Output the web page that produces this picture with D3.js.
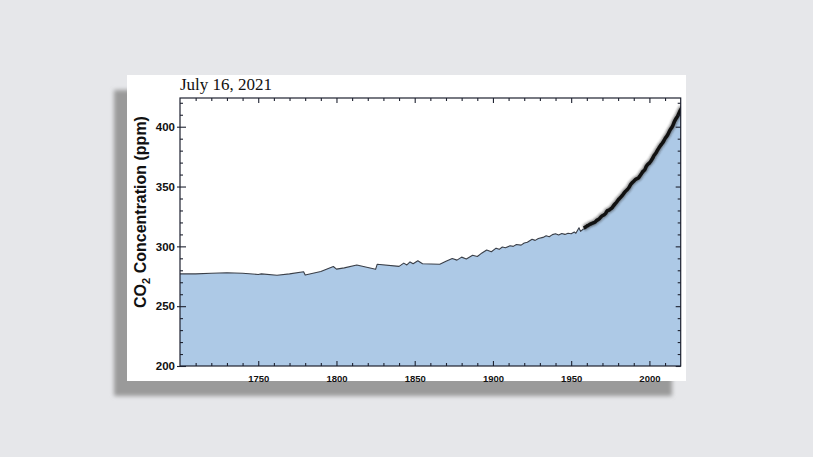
<!DOCTYPE html>
<html><head><meta charset="utf-8">
<script src="https://cdn.jsdelivr.net/npm/d3@7/dist/d3.min.js"></script>
<style>
html,body{margin:0;padding:0;background:#e6e7ea;}
svg{display:block;}
</style></head>
<body><svg id="c" width="813" height="457"></svg>
<script>
// ---- data ----
const titleText = "July 16, 2021";
const iceYears = [1700,1710,1720,1730,1740,1750,1752,1762,1770,1779,1780,1790,1798,1800,1805,1813,1825,1826,1840,1843,1845,1847,1849,1852,1855,1866,1870,1874,1877,1880,1883,1887,1890,1893,1896,1899,1902,1904,1906,1908,1911,1913,1915,1918,1920,1922,1925,1927,1929,1932,1934,1936,1938,1940,1942,1944,1946,1948,1950,1952,1953,1955,1956,1958];
const iceValues = [277,277,277.5,278,277.5,276.5,277,275.8,277,278.8,276,279,283.2,281,282,284.4,280.8,285,283.3,286,284.5,287,285.5,288,285.5,285,287.5,289.8,288.5,291,289.5,292.5,291.5,294.5,297,295.5,298.5,297.5,299.5,298.8,300.5,300,301.5,301,302.8,303.5,306,305,306.5,307.5,308.8,308,309.8,310.5,309.5,310.8,310,311,310.5,312,311,315.5,312.5,314.7];
const mloYears = [1958,1959,1960,1961,1962,1963,1964,1965,1966,1967,1968,1969,1970,1971,1972,1973,1974,1975,1976,1977,1978,1979,1980,1981,1982,1983,1984,1985,1986,1987,1988,1989,1990,1991,1992,1993,1994,1995,1996,1997,1998,1999,2000,2001,2002,2003,2004,2005,2006,2007,2008,2009,2010,2011,2012,2013,2014,2015,2016,2017,2018,2019,2020,2021];
const mloValues = [315.3,315.98,316.91,317.64,318.45,318.99,319.62,320.04,321.37,322.18,323.05,324.62,325.68,326.32,327.46,329.68,330.19,331.12,332.03,333.84,335.41,336.84,338.76,340.12,341.48,343.15,344.85,346.35,347.61,349.31,351.69,353.2,354.45,355.7,356.54,357.21,358.96,360.97,362.74,363.88,366.84,368.54,369.71,371.32,373.45,375.98,377.7,379.98,382.09,384.02,385.83,387.64,390.1,391.85,394.06,396.74,398.81,401.01,404.41,406.76,408.72,411.65,414.21,416.4];
const yTickLabels = [200,250,300,350,400];
const xTickLabels = [1750,1800,1850,1900,1950,2000];
const yAxisTitle = ["CO", "2", " Concentration (ppm)"];

// ---- layout ----
const svg = d3.select("#c");
const defs = svg.append("defs");
const f = defs.append("filter").attr("id","blur").attr("x","-10%").attr("y","-10%").attr("width","120%").attr("height","120%");
f.append("feGaussianBlur").attr("stdDeviation",2);
const f2 = defs.append("filter").attr("id","soft").attr("x","-5%").attr("y","-5%").attr("width","110%").attr("height","110%");
f2.append("feGaussianBlur").attr("stdDeviation",0.8);

svg.append("rect").attr("x",0).attr("y",0).attr("width",813).attr("height",457).attr("fill","#e6e7ea");
// shadow
svg.append("rect").attr("x",114).attr("y",90).attr("width",558).attr("height",306).attr("fill","#9a9a9a").attr("filter","url(#blur)");
// card
svg.append("rect").attr("x",127).attr("y",75).attr("width",559).attr("height",306).attr("fill","#ffffff");

const L=180, R=680.7, T=98, B=366;
const x = d3.scaleLinear().domain([1700,2020]).range([L,R]);
const y = d3.scaleLinear().domain([200,424]).range([B,T]);

defs.append("clipPath").attr("id","plot").append("rect").attr("x",L).attr("y",T).attr("width",R-L).attr("height",B-T);

const ice = iceYears.map((d,i)=>({yr:d,v:iceValues[i]}));
const mlo = mloYears.map((d,i)=>({yr:d,v:mloValues[i]}));
const all = ice.concat(mlo);

const g = svg.append("g").attr("clip-path","url(#plot)");
g.append("path").datum(all)
  .attr("d", d3.area().x(d=>x(d.yr)).y0(y(200)).y1(d=>y(d.v)))
  .attr("fill","#adc9e6");
g.append("path").datum(ice)
  .attr("d", d3.line().x(d=>x(d.yr)).y(d=>y(d.v)))
  .attr("fill","none").attr("stroke","#3a3f48").attr("stroke-width",1.1).attr("stroke-linejoin","round");
const mloLine = d3.line().x(d=>x(d.yr)).y(d=>y(d.v)).curve(d3.curveMonotoneX);
g.append("path").datum(mlo)
  .attr("d", mloLine)
  .attr("fill","none").attr("stroke","#333").attr("stroke-width",6).attr("stroke-opacity",0.55).attr("filter","url(#soft)");
g.append("path").datum(mlo)
  .attr("d", mloLine)
  .attr("fill","none").attr("stroke","#111").attr("stroke-width",3.5);

// frame
const axisColor = "#1e2230";
svg.append("rect").attr("x",L).attr("y",T).attr("width",R-L).attr("height",B-T)
  .attr("fill","none").attr("stroke",axisColor).attr("stroke-width",1.2);

const xMinor = d3.range(1710,2020,10).filter(v=>v%50!==0);
const yMinor = d3.range(210,424,10).filter(v=>v%50!==0);

function styleAxis(sel){
  sel.select(".domain").remove();
  sel.selectAll("line").attr("stroke",axisColor).attr("stroke-width",1.1);
}
// bottom
svg.append("g").attr("transform",`translate(0,${B})`)
  .call(d3.axisBottom(x).tickValues(xTickLabels).tickSize(-5).tickPadding(9).tickFormat(d3.format("d")))
  .call(styleAxis)
  .call(s=>s.selectAll("text").attr("font-family","Liberation Sans, Arial, sans-serif").attr("font-weight","bold").attr("font-size","9.5px").attr("fill","#111"));
svg.append("g").attr("transform",`translate(0,${B})`)
  .call(d3.axisBottom(x).tickValues(xMinor).tickSize(-3).tickFormat(""))
  .call(styleAxis);
// top
svg.append("g").attr("transform",`translate(0,${T})`)
  .call(d3.axisTop(x).tickValues(xTickLabels).tickSize(-5).tickFormat(""))
  .call(styleAxis);
svg.append("g").attr("transform",`translate(0,${T})`)
  .call(d3.axisTop(x).tickValues(xMinor).tickSize(-3).tickFormat(""))
  .call(styleAxis);
// left
svg.append("g").attr("transform",`translate(${L},0)`)
  .call(d3.axisLeft(y).tickValues(yTickLabels).tickSize(-6).tickPadding(5).tickFormat(d3.format("d")))
  .call(styleAxis)
  .call(s=>s.selectAll("text").attr("font-family","Liberation Sans, Arial, sans-serif").attr("font-weight","bold").attr("font-size","11.5px").attr("fill","#111"));
svg.append("g").attr("transform",`translate(${L},0)`)
  .call(d3.axisLeft(y).tickValues(yTickLabels).tickSize(3).tickFormat(""))
  .call(styleAxis);
svg.append("g").attr("transform",`translate(${L},0)`)
  .call(d3.axisLeft(y).tickValues(yMinor).tickSize(-3).tickFormat(""))
  .call(styleAxis);
// right
svg.append("g").attr("transform",`translate(${R},0)`)
  .call(d3.axisRight(y).tickValues(yTickLabels).tickSize(-5).tickFormat(""))
  .call(styleAxis);
svg.append("g").attr("transform",`translate(${R},0)`)
  .call(d3.axisRight(y).tickValues(yMinor).tickSize(-3).tickFormat(""))
  .call(styleAxis);

// title
svg.append("text").attr("x",180).attr("y",90)
  .attr("font-family","Liberation Serif, Times New Roman, serif").attr("font-size","17px").attr("fill","#111")
  .text(titleText);

// y axis title
const yt = svg.append("text")
  .attr("transform","translate(146,212) rotate(-90)")
  .attr("text-anchor","middle")
  .attr("font-family","Liberation Sans, Arial, sans-serif").attr("font-weight","bold").attr("font-size","16px").attr("fill","#111");
yt.append("tspan").text(yAxisTitle[0]);
yt.append("tspan").attr("font-size","11px").attr("dy","4").text(yAxisTitle[1]);
yt.append("tspan").attr("dy","-4").text(yAxisTitle[2]);
</script>
</body></html>
